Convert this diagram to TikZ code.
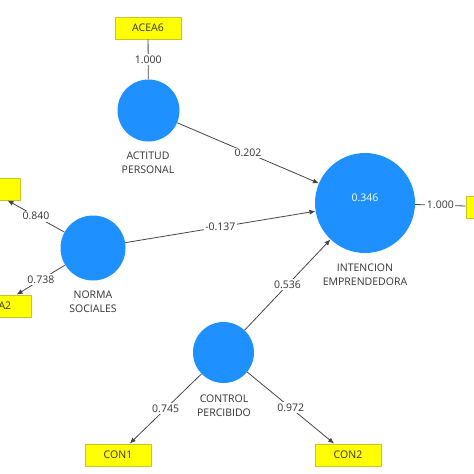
\documentclass[tikz,border=0pt]{standalone}
\usepackage{fontspec}
\setmainfont{Open Sans}
\usepackage{tikz}
\usetikzlibrary{arrows.meta}
\definecolor{lvblue}{RGB}{30,144,255}
\definecolor{mvyellow}{RGB}{255,255,0}
\definecolor{mvborder}{RGB}{205,195,40}
\definecolor{txtgray}{RGB}{51,51,51}
\definecolor{linkgray}{RGB}{70,70,70}

\begin{document}
\begin{tikzpicture}[x=1pt,y=-1pt,font=\fontsize{10.5}{14}\selectfont,text=txtgray,
  latent/.style={circle,fill=lvblue,inner sep=0pt},
  manifest/.style={rectangle,fill=mvyellow,draw=mvborder,line width=.8pt,minimum width=66pt,minimum height=22pt,inner sep=0pt},
  lvname/.style={align=center,inner sep=1pt},
  coef/.style={fill=white,inner sep=1.5pt,midway},
  link/.style={draw=linkgray,line width=.8pt},
  loading/.style={link,-{Latex[length=6pt,width=5pt]}}]
\useasboundingbox (0,0) rectangle (474,474);
\clip (0,0) rectangle (474,474);
\fill[white] (0,0) rectangle (474,474);
\node[manifest] (acea6) at (148,28) {ACEA6};
\node[latent,minimum size=62pt] (actitud) at (148.5,110.5) {};
\node[lvname] (actitudname) at (148,163) {ACTITUD\\PERSONAL};
\node[latent,minimum size=65pt] (norma) at (93,248) {};
\node[lvname] (normaname) at (93,301.5) {NORMA\\SOCIALES};
\node[latent,minimum size=100pt] (intencion) at (365,203) {};
\node[text=white,inner sep=1pt] (rsq) at (365,198) {0.346};
\node[lvname] (intencionname) at (365,275) {INTENCION\\EMPRENDEDORA};
\node[latent,minimum size=61pt] (control) at (223.5,352.5) {};
\node[lvname] (controlname) at (224,405.5) {CONTROL\\PERCIBIDO};
\node[manifest] (con1) at (118,455) {CON1};
\node[manifest] (con2) at (348,455) {CON2};
\node[manifest] (nsa1) at (-13,189) {NSA1};
\node[manifest] (nsa2) at (-2,306) {NSA2};
\node[manifest] (ie1) at (499,207) {IE1};
\draw[link] (acea6) -- node[coef] {1.000} (actitud);
\draw[loading] (actitud) -- node[coef] {0.202} (intencion);
\draw[loading] (norma) -- node[coef] {-0.137} (intencion);
\draw[loading] (control) -- node[coef] {0.536} (intencion);
\draw[loading] (norma) -- node[coef] {0.840} (nsa1);
\draw[loading] (norma) -- node[coef] {0.738} (nsa2);
\draw[loading] (control) -- node[coef] {0.745} (con1);
\draw[loading] (control) -- node[coef] {0.972} (con2);
\draw[link] (intencion) -- node[coef] {1.000} (ie1);
\end{tikzpicture}
\end{document}
